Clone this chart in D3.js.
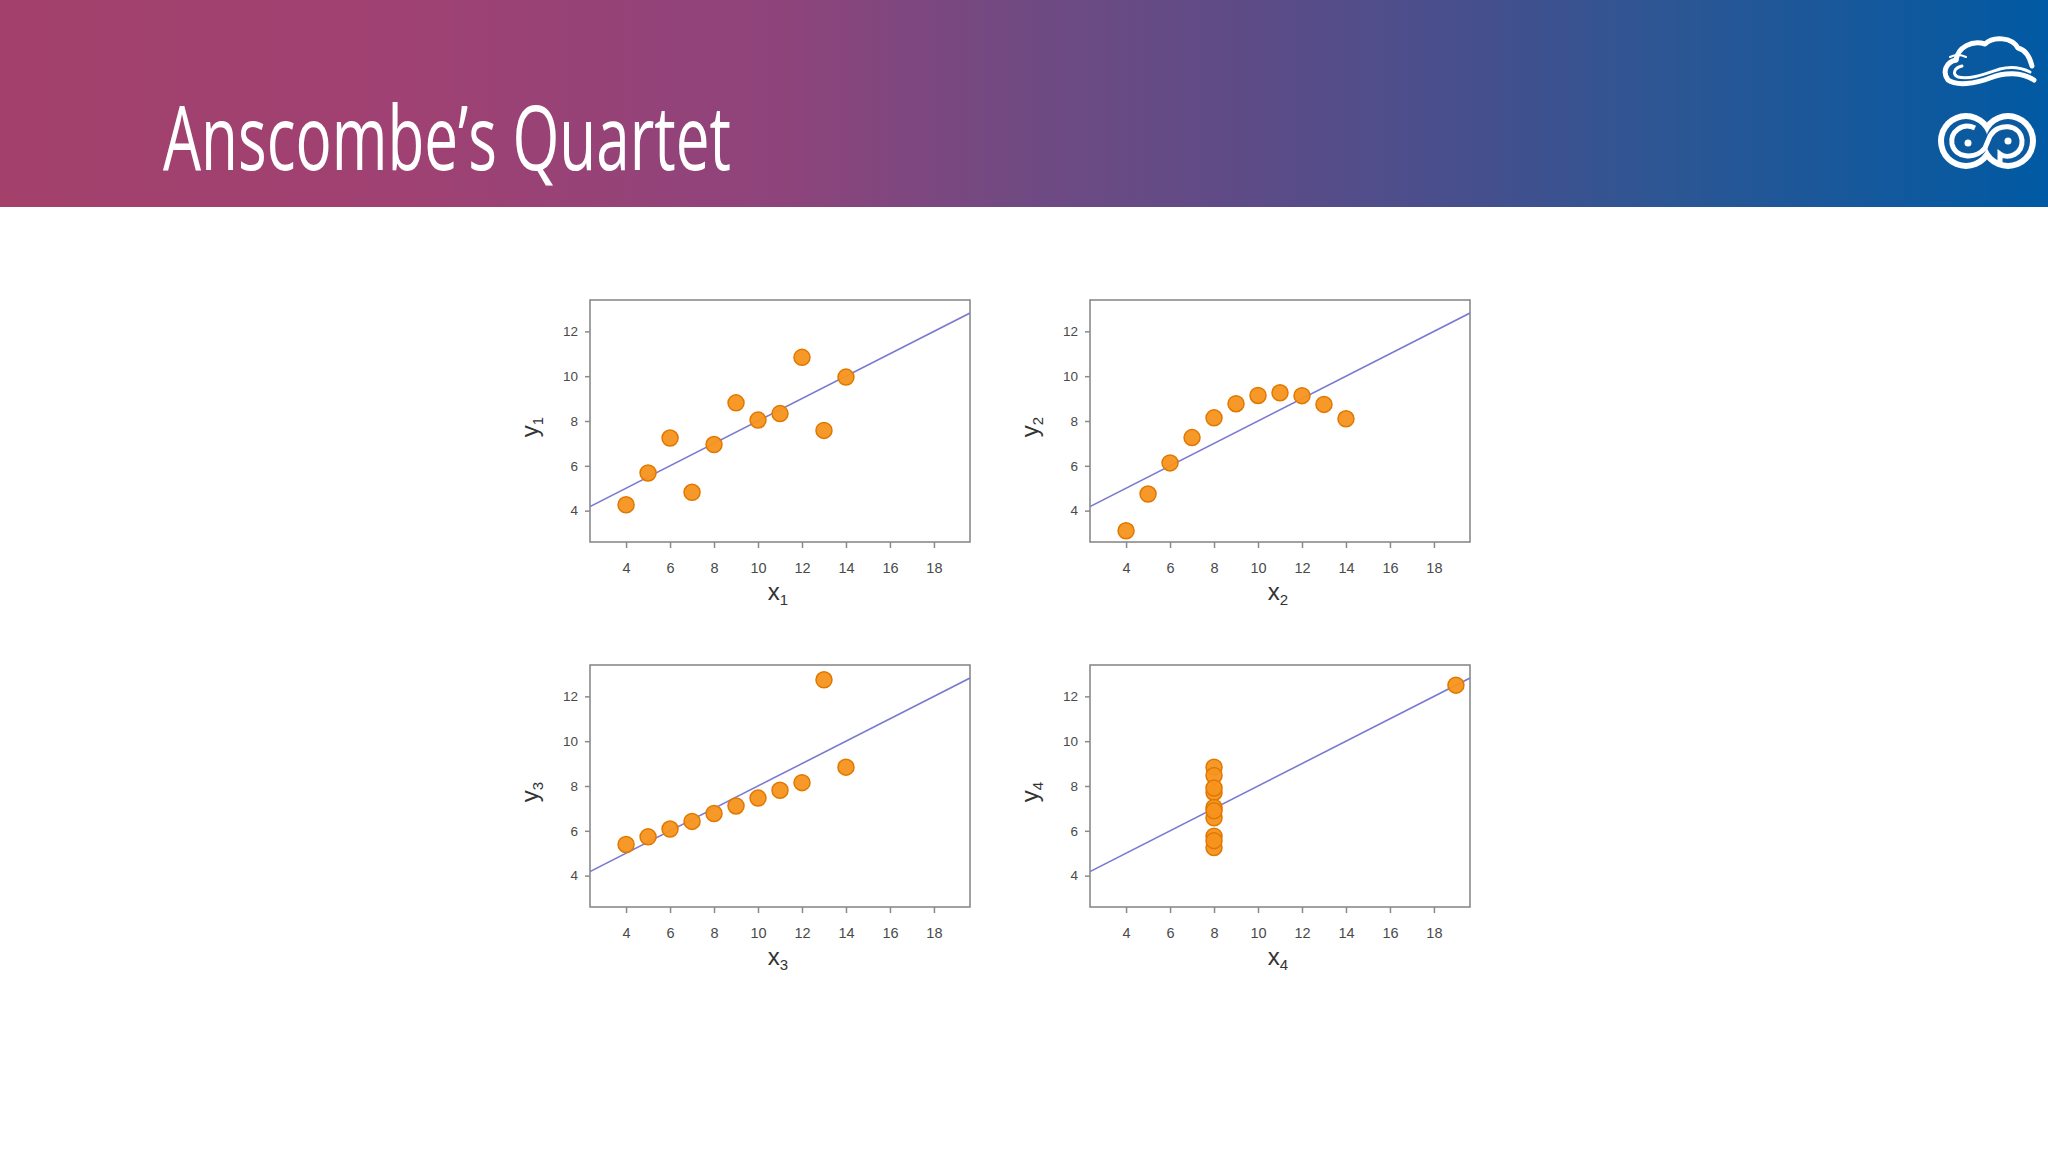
<!DOCTYPE html>
<html>
<head>
<meta charset="utf-8">
<script src="https://cdn.jsdelivr.net/npm/d3@7"></script>
<style>
  html, body { margin: 0; padding: 0; background: #ffffff; }
  svg { display: block; }
</style>
</head>
<body>
<script>
// ---- data (Anscombe's quartet) ----
const x123 = [10, 8, 13, 9, 11, 14, 6, 4, 12, 7, 5];
const y1 = [8.04, 6.95, 7.58, 8.81, 8.33, 9.96, 7.24, 4.26, 10.84, 4.82, 5.68];
const y2 = [9.14, 8.14, 8.74, 8.77, 9.26, 8.10, 6.13, 3.10, 9.13, 7.26, 4.74];
const y3 = [7.46, 6.77, 12.74, 7.11, 7.81, 8.84, 6.08, 5.39, 8.15, 6.42, 5.73];
const x4 = [8, 8, 8, 8, 8, 8, 8, 19, 8, 8, 8];
const y4 = [6.58, 5.76, 7.71, 8.84, 8.47, 7.04, 5.25, 12.50, 5.56, 7.91, 6.89];
const xTicks = [4, 6, 8, 10, 12, 14, 16, 18];
const yTicks = [4, 6, 8, 10, 12];
const fitIntercept = 3.0;
const fitSlope = 0.5;
const titleText = "Anscombe\u2019s Quartet";
const panelNames = ["1", "2", "3", "4"];

const W = 2048, H = 1152;
const svg = d3.select("body").append("svg").attr("width", W).attr("height", H);

// ---- header ----
const defs = svg.append("defs");
const grad = defs.append("linearGradient").attr("id", "hdr").attr("x1", "0").attr("x2", "1").attr("y1", "0").attr("y2", "0");
[[0, "#a3416b"], [0.2, "#9f4173"], [0.38, "#8e447b"], [0.5, "#704a82"], [0.6, "#5f4b86"], [0.72, "#464f8d"], [0.82, "#2b5694"], [1, "#005aa3"]]
  .forEach(([o, c]) => grad.append("stop").attr("offset", o).attr("stop-color", c));
svg.append("rect").attr("x", 0).attr("y", 0).attr("width", W).attr("height", 207).attr("fill", "url(#hdr)");

svg.append("text")
  .attr("x", 163).attr("y", 170)
  .attr("font-family", "'Liberation Sans Narrow', 'Open Sans', sans-serif")
  .attr("font-size", 90)
  .attr("fill", "#ffffff")
  .attr("textLength", 568)
  .attr("lengthAdjust", "spacingAndGlyphs")
  .text(titleText);

// logos
const lg = svg.append("g").attr("fill", "none").attr("stroke", "#ffffff").attr("stroke-linecap", "round").attr("stroke-linejoin", "round");
lg.append("path").attr("stroke-width", 5)
  .attr("d", "M1956,60 C1958,47 1972,40 1985,44 C1993,36 2012,37 2018,48 C2026,50 2030,58 2032,66");
lg.append("path").attr("stroke-width", 5)
  .attr("d", "M1956,60 C1946,62 1942,72 1948,80 C1956,86 1975,84 1990,78 C2005,72 2022,72 2034,80");
lg.append("path").attr("stroke-width", 3)
  .attr("d", "M1962,66 C1954,68 1952,74 1958,77 C1970,80 1985,74 2000,69 C2012,66 2022,68 2030,72");
lg.append("path").attr("stroke-width", 2)
  .attr("d", "M1950,57 C1956,54 1962,55 1966,57");

const lg2 = svg.append("g");
lg2.append("circle").attr("cx", 1966).attr("cy", 141).attr("r", 28).attr("fill", "#ffffff");
lg2.append("circle").attr("cx", 2008).attr("cy", 141).attr("r", 28).attr("fill", "#ffffff");
lg2.append("circle").attr("cx", 1966).attr("cy", 141).attr("r", 22).attr("fill", "#0b5aa0");
lg2.append("circle").attr("cx", 2008).attr("cy", 141).attr("r", 22).attr("fill", "#0b5aa0");
lg2.append("path").attr("fill", "none").attr("stroke", "#ffffff").attr("stroke-width", 5)
  .attr("d", "M1975,128 C1962,122 1950,132 1952,144 C1955,158 1975,160 1985,148 L1990,136 C1998,122 2020,124 2022,140 C2023,154 2008,160 2000,154 L2000,166");
lg2.append("circle").attr("cx", 1968).attr("cy", 143).attr("r", 3.5).attr("fill", "#ffffff");
lg2.append("circle").attr("cx", 2008).attr("cy", 141).attr("r", 3.5).attr("fill", "#ffffff");

// ---- panels ----
const panels = [
  { xs: x123, ys: y1, left: 590, top: 300 },
  { xs: x123, ys: y2, left: 1090, top: 300 },
  { xs: x123, ys: y3, left: 590, top: 665 },
  { xs: x4, ys: y4, left: 1090, top: 665 }
];
const pw = 380, ph = 242;
const xDom = [3 - 0.04 * 16, 19 + 0.04 * 16];
const yDom = [3 - 0.04 * 10, 13 + 0.04 * 10];

panels.forEach((p, i) => {
  const g = svg.append("g").attr("transform", `translate(${p.left},${p.top})`);
  const x = d3.scaleLinear().domain(xDom).range([0, pw]);
  const y = d3.scaleLinear().domain(yDom).range([ph, 0]);

  g.append("rect").attr("x", 0).attr("y", 0).attr("width", pw).attr("height", ph)
    .attr("fill", "#ffffff").attr("stroke", "#8a8a8a").attr("stroke-width", 1.6);

  const xAxis = d3.axisBottom(x).tickValues(xTicks).tickSize(6).tickPadding(15).tickFormat(d3.format("d"));
  const ax = g.append("g").attr("transform", `translate(0,${ph})`).call(xAxis);
  ax.select(".domain").remove();
  ax.selectAll(".tick line").attr("stroke", "#8a8a8a").attr("stroke-width", 1.5);
  ax.selectAll(".tick text").attr("fill", "#4a4a4a").attr("font-size", 14.5)
    .attr("font-family", "'Liberation Sans', Arial, sans-serif");

  const yAxis = d3.axisLeft(y).tickValues(yTicks).tickSize(5).tickPadding(7).tickFormat(d3.format("d"));
  const ay = g.append("g").call(yAxis);
  ay.select(".domain").remove();
  ay.selectAll(".tick line").attr("stroke", "#8a8a8a").attr("stroke-width", 1.5);
  ay.selectAll(".tick text").attr("fill", "#4a4a4a").attr("font-size", 13.5)
    .attr("font-family", "'Liberation Sans', Arial, sans-serif");

  // regression line, clipped to plot region
  const cid = "clip" + i;
  defs.append("clipPath").attr("id", cid).append("rect").attr("x", 0).attr("y", 0).attr("width", pw).attr("height", ph);
  g.append("line")
    .attr("clip-path", `url(#${cid})`)
    .attr("x1", x(xDom[0])).attr("y1", y(fitIntercept + fitSlope * xDom[0]))
    .attr("x2", x(xDom[1])).attr("y2", y(fitIntercept + fitSlope * xDom[1]))
    .attr("stroke", "#7a7ad0").attr("stroke-width", 1.6);

  g.selectAll("circle.pt").data(p.xs.map((v, k) => [v, p.ys[k]])).join("circle")
    .attr("class", "pt")
    .attr("cx", d => x(d[0])).attr("cy", d => y(d[1])).attr("r", 8)
    .attr("fill", "#f7931e").attr("stroke", "#e07800").attr("stroke-width", 1.5)
    .attr("fill-opacity", 0.95);

  // axis titles
  const xt = g.append("text").attr("x", pw / 2 - 2).attr("y", ph + 58)
    .attr("text-anchor", "middle").attr("fill", "#333")
    .attr("font-family", "'Liberation Sans', Arial, sans-serif").attr("font-size", 24);
  xt.append("tspan").text("x");
  xt.append("tspan").attr("font-size", 15).attr("dy", 5).text(panelNames[i]);

  const yt = g.append("text")
    .attr("transform", `translate(${-52},${ph / 2 + 6}) rotate(-90)`)
    .attr("text-anchor", "middle").attr("fill", "#333")
    .attr("font-family", "'Liberation Sans', Arial, sans-serif").attr("font-size", 24);
  yt.append("tspan").text("y");
  yt.append("tspan").attr("font-size", 15).attr("dy", 5).text(panelNames[i]);
});
</script>
</body>
</html>
